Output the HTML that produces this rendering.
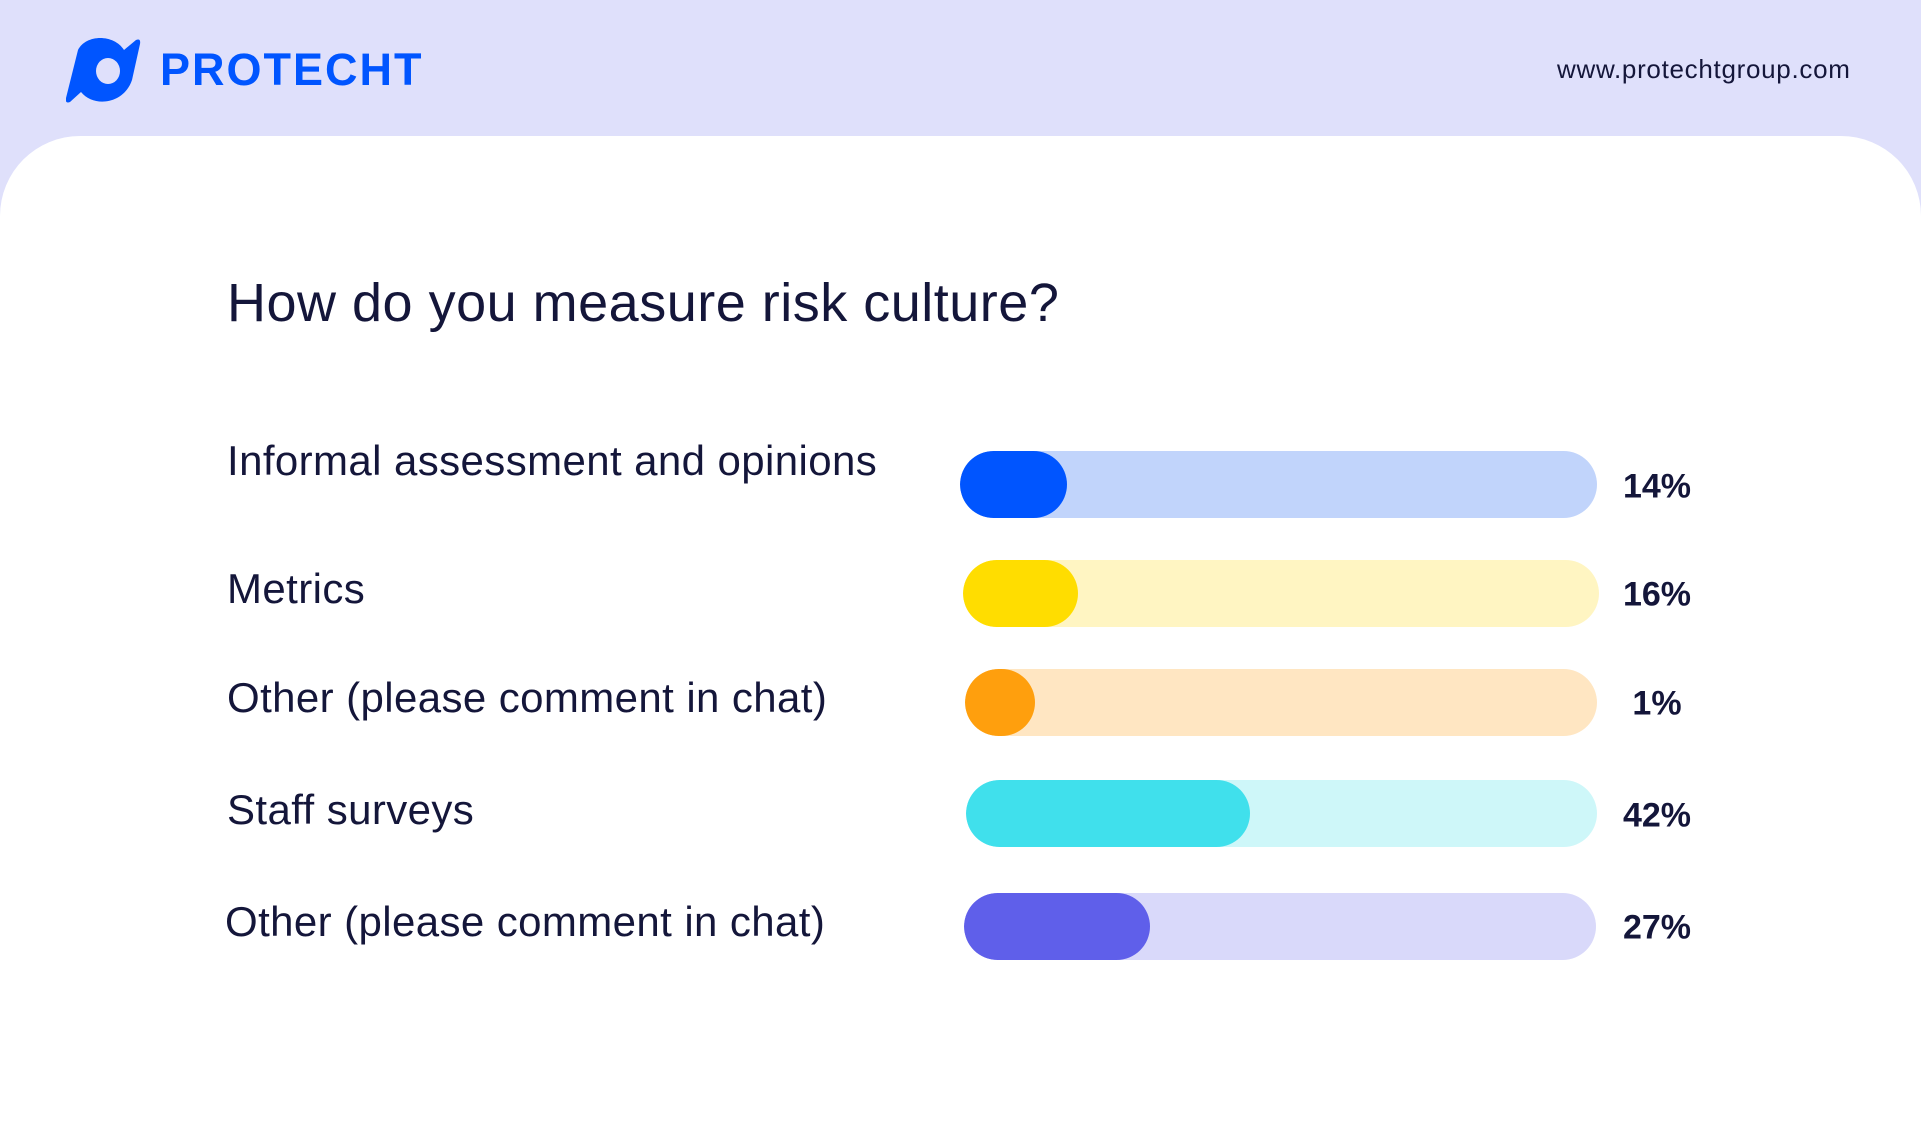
<!DOCTYPE html>
<html><head><meta charset="utf-8"><style>
body{margin:0;width:1921px;height:1081px;background:#dfe0fb;position:relative;overflow:hidden;font-family:"Liberation Sans",sans-serif;color:#14163a}
.card{position:absolute;left:0;top:136px;width:1921px;height:1000px;background:#fff;border-radius:80px 80px 0 0}
.abs{position:absolute;white-space:nowrap}
.lbl{position:absolute;left:227px;font-size:42px;line-height:1;transform:translateY(-50%);letter-spacing:0.4px}
.bar{position:absolute;height:67px;border-radius:34px;overflow:hidden}
.fill{position:absolute;left:0;top:0;height:100%;border-radius:34px}
.pct{position:absolute;left:1622px;width:70px;text-align:center;font-weight:bold;font-size:34px;transform:translateY(-50%)}
</style></head><body>
<div class="card"></div>
<svg class="abs" style="left:66px;top:38px" width="90" height="66" viewBox="0 0 90 66">
<path d="M12 12 C20 -4 48 -4 58 12 L70 2 Q75 0 74 6 L66 42 C58 66 28 70 15 54 L4 64 Q-1 66 0 60 Z" fill="#0055ff"/>
<ellipse cx="42" cy="33" rx="12" ry="13" fill="#dfe0fb"/>
</svg>
<div class="abs" style="left:160px;top:44px;font-size:45px;font-weight:bold;color:#0055ff;letter-spacing:2px">PROTECHT</div>
<div class="abs" style="left:1557px;top:54px;font-size:26px;color:#14163a;letter-spacing:0.7px">www.protechtgroup.com</div>
<div class="abs" style="left:227px;top:272px;font-size:54px;letter-spacing:0.5px">How do you measure risk culture?</div>

<div class="lbl" style="top:461px">Informal assessment and opinions</div>
<div class="lbl" style="top:589px">Metrics</div>
<div class="lbl" style="top:698px">Other (please comment in chat)</div>
<div class="lbl" style="top:810px">Staff surveys</div>
<div class="lbl" style="top:922px;left:225px">Other (please comment in chat)</div>

<div class="bar" style="left:960px;top:451px;width:637px;background:#c1d4fb"><div class="fill" style="width:107px;background:#0055ff"></div></div>
<div class="bar" style="left:963px;top:560px;width:636px;background:#fff5c2"><div class="fill" style="width:115px;background:#ffdd00"></div></div>
<div class="bar" style="left:965px;top:669px;width:632px;background:#ffe6c2"><div class="fill" style="width:70px;background:#ff9f0d"></div></div>
<div class="bar" style="left:966px;top:780px;width:631px;background:#cef7f9"><div class="fill" style="width:284px;background:#40e0ec"></div></div>
<div class="bar" style="left:964px;top:893px;width:632px;background:#d9d9fa"><div class="fill" style="width:186px;background:#5f5fea"></div></div>

<div class="pct" style="top:487px">14%</div>
<div class="pct" style="top:595px">16%</div>
<div class="pct" style="top:704px">1%</div>
<div class="pct" style="top:816px">42%</div>
<div class="pct" style="top:928px">27%</div>
</body></html>
